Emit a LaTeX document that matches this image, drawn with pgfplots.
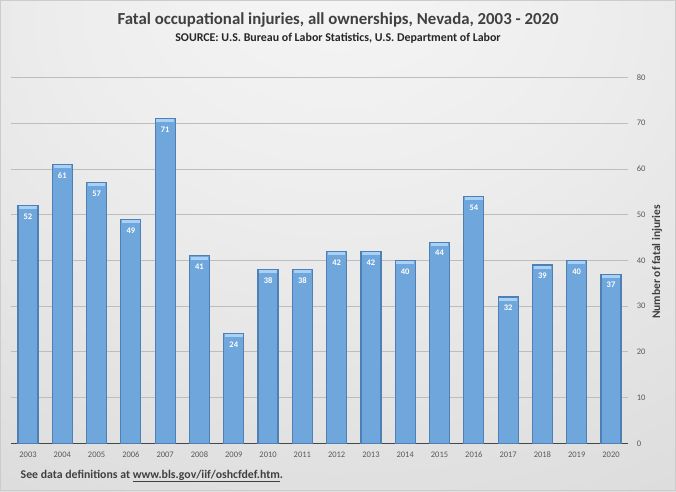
\documentclass[border=0pt]{standalone}
\usepackage{pgfplots}
\pgfplotsset{compat=1.18}
\usepackage{fontspec}
\setmainfont{Carlito}

\definecolor{bgA}{HTML}{F6F6F6}
\definecolor{bgB}{HTML}{EDEDED}
\definecolor{bgC}{HTML}{E1E1E1}
\definecolor{bgD}{HTML}{D6D6D6}
\definecolor{bgE}{HTML}{CCCCCC}
\definecolor{bgF}{HTML}{C4C4C4}
\definecolor{barfill}{HTML}{6FA6DC}
\definecolor{baredge}{HTML}{4E80B4}
\definecolor{barcap}{HTML}{A9D0F5}
\definecolor{titlegray}{HTML}{404040}
\definecolor{tickgray}{HTML}{595959}
\definecolor{gridgray}{HTML}{BDBDBD}

\pgfdeclareradialshading{chartbg}{\pgfpoint{0bp}{30bp}}{%
  color(0bp)=(bgA); color(20bp)=(bgB); color(40bp)=(bgC);
  color(60bp)=(bgD); color(80bp)=(bgE); color(100bp)=(bgF)}

% Fatal occupational injuries per year, Nevada
\pgfplotstableread{
idx year count
0  2003 52
1  2004 61
2  2005 57
3  2006 49
4  2007 71
5  2008 41
6  2009 24
7  2010 38
8  2011 38
9  2012 42
10 2013 42
11 2014 40
12 2015 44
13 2016 54
14 2017 32
15 2018 39
16 2019 40
17 2020 37
}\injuries

\begin{document}
\begin{tikzpicture}
% page background
\shade[shading=chartbg] (0,0) rectangle (676pt,491pt);
\draw[bgE, line width=0.8pt] (0.4pt,0.4pt) rectangle (675.6pt,490.6pt);

\begin{axis}[
  scale only axis,
  width=617.3pt, height=365.8pt,
  at={(10.85pt,47.7pt)}, anchor=south west,
  xmin=-0.5, xmax=17.5,
  ymin=0, ymax=80,
  ytick={0,10,...,80},
  xtick=data,
  xticklabels={2003,2004,2005,2006,2007,2008,2009,2010,2011,2012,2013,2014,2015,2016,2017,2018,2019,2020},
  axis x line*=bottom,
  axis y line*=right,
  x axis line style={draw=black!72, line width=1.3pt, -},
  y axis line style={draw=none},
  major tick length=0pt,
  ymajorgrids,
  grid style={gridgray, line width=0.8pt},
  /pgf/number format/assume math mode=true,
  xticklabel style={font=\fontsize{8.5}{10}\selectfont, text=tickgray, anchor=base, yshift=-14.5pt},
  yticklabel style={font=\fontsize{8.5}{10}\selectfont, text=tickgray, anchor=west, inner sep=0pt, xshift=8.5pt},
  clip=false,
]
% bars
\addplot[ybar, bar width=20pt, bar shift=0pt, fill=barfill, draw=baredge, line width=1.2pt,
  nodes near coords,
  every node near coord/.append style={font=\bfseries\fontsize{8.5}{10}\selectfont, text=white, anchor=center, yshift=-11pt},
] table[x=idx, y=count] {\injuries};
% light cap along the top of each bar
\addplot[ybar, bar width=20pt, bar shift=0pt, draw=none, fill=none, forget plot,
  nodes near coords={},
  every node near coord/.style={fill=barcap, minimum width=17.5pt, minimum height=3pt, inner sep=0pt, anchor=north, yshift=-0.6pt},
] table[x=idx, y=count] {\injuries};
\end{axis}

\node[rotate=90, font=\bfseries\fontsize{11.5}{13}\selectfont, text=titlegray]
  at (657pt,229pt) {Number of fatal injuries};

\node[font=\bfseries\fontsize{16.8}{20}\selectfont, text=titlegray] at (338pt,471pt)
  {Fatal occupational injuries, all ownerships, Nevada, 2003 - 2020};
\node[font=\bfseries\fontsize{11.9}{14}\selectfont, text=black!85] at (338pt,453pt)
  {SOURCE: U.S. Bureau of Labor Statistics, U.S. Department of Labor};

\node[font=\bfseries\fontsize{11.8}{14}\selectfont, text=titlegray, anchor=west, inner sep=0pt] at (20.5pt,15pt)
  {See data definitions at \underline{www.bls.gov/iif/oshcfdef.htm}.};

\pgfresetboundingbox
\path[use as bounding box] (0,0) rectangle (676pt,491pt);
\end{tikzpicture}
\end{document}
